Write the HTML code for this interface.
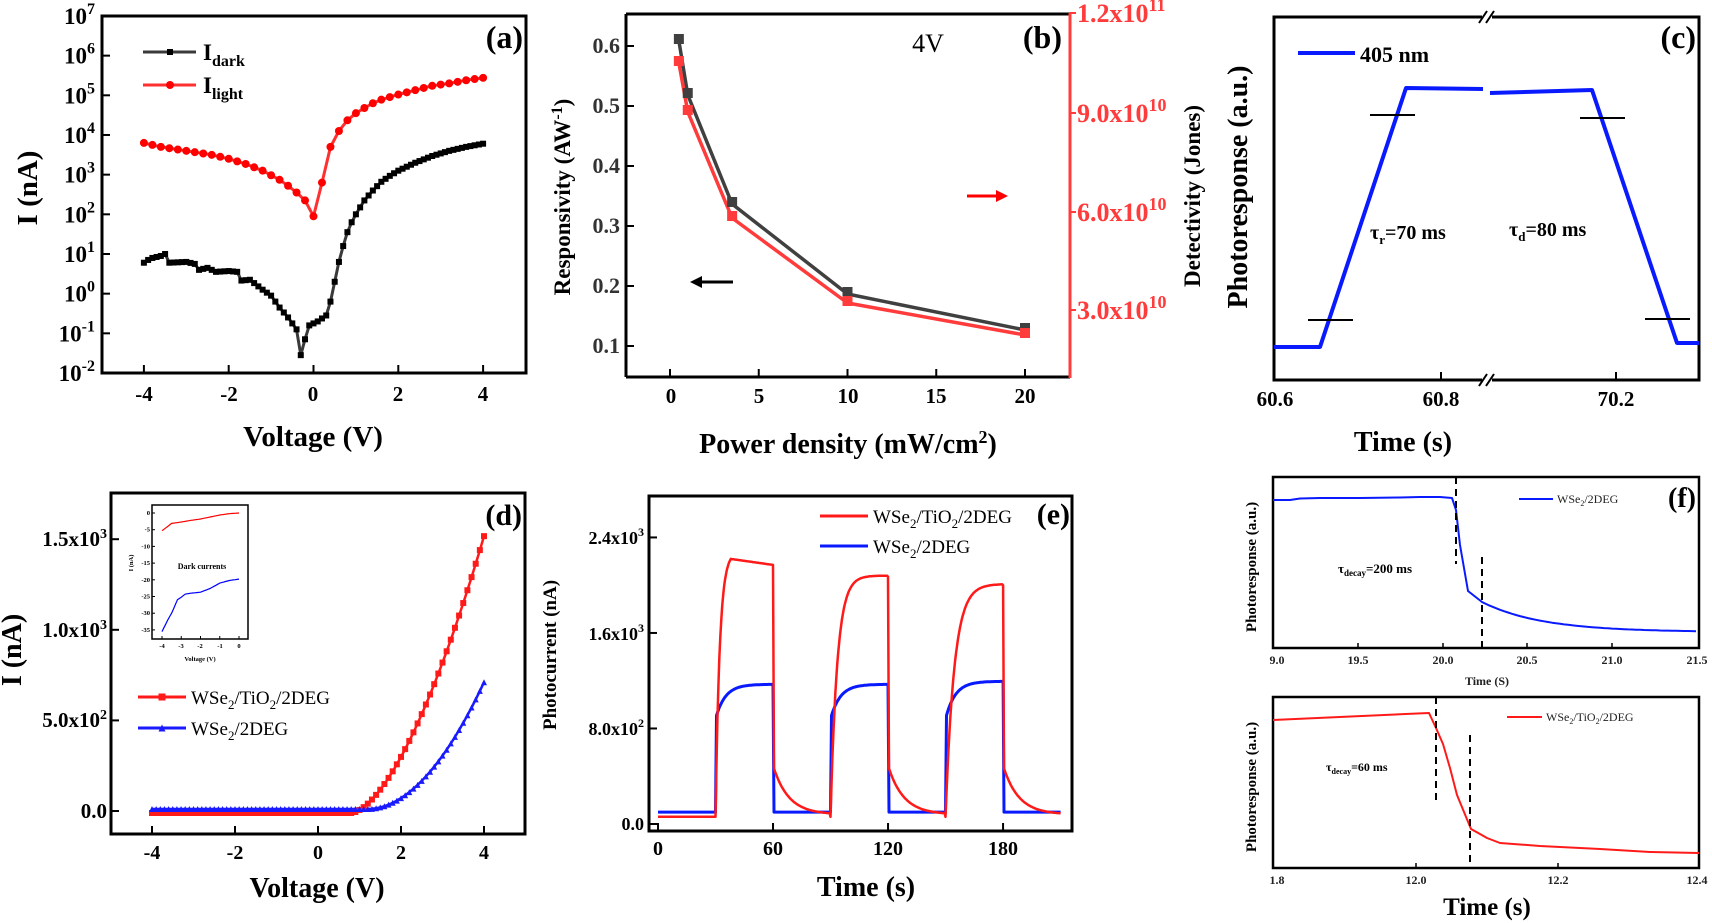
<!DOCTYPE html>
<html><head><meta charset="utf-8"><style>
html,body{margin:0;padding:0;background:#fff;}
svg{display:block;font-family:"Liberation Serif",serif;}
.b{font-weight:bold;}
</style></head><body>
<svg id="s" width="1712" height="923" viewBox="0 0 1712 923" xmlns="http://www.w3.org/2000/svg">
<rect width="1712" height="923" fill="#fff"/>
<g id="g"></g>
<!-- Panel a texts -->
<g class="b" font-size="21" text-anchor="middle">
<text x="144" y="401">-4</text><text x="229" y="401">-2</text><text x="313" y="401">0</text><text x="398" y="401">2</text><text x="483" y="401">4</text>
</g>
<g class="b" font-size="23" text-anchor="end" id="alab"></g>
<text class="b" font-size="29" x="313" y="446" text-anchor="middle">Voltage (V)</text>
<text class="b" font-size="29" transform="translate(37,188) rotate(-90)" text-anchor="middle">I (nA)</text>
<text class="b" font-size="23" x="203" y="60">I<tspan font-size="16" dy="6">dark</tspan></text>
<text class="b" font-size="23" x="203" y="93">I<tspan font-size="16" dy="6">light</tspan></text>
<text class="b" font-size="32" x="523" y="48" text-anchor="end">(a)</text>

<!-- Panel b texts -->
<g class="b" font-size="21" text-anchor="middle">
<text x="671" y="403">0</text><text x="759" y="403">5</text><text x="848" y="403">10</text><text x="936" y="403">15</text><text x="1025" y="403">20</text>
</g>
<g class="b" font-size="22" text-anchor="end" fill="#333">
<text x="620" y="353">0.1</text><text x="620" y="293">0.2</text><text x="620" y="233">0.3</text><text x="620" y="173">0.4</text><text x="620" y="113">0.5</text><text x="620" y="53">0.6</text>
</g>
<g class="b" font-size="26" fill="#ff3b3b">
<text x="1077" y="22">1.2x10<tspan font-size="18" dy="-11">11</tspan></text>
<text x="1077" y="122">9.0x10<tspan font-size="18" dy="-11">10</tspan></text>
<text x="1077" y="221">6.0x10<tspan font-size="18" dy="-11">10</tspan></text>
<text x="1077" y="319">3.0x10<tspan font-size="18" dy="-11">10</tspan></text>
</g>
<text class="b" font-size="28" x="848" y="453" text-anchor="middle">Power density (mW/cm<tspan font-size="18" dy="-10">2</tspan><tspan dy="10">)</tspan></text>
<text class="b" font-size="23" transform="translate(570,197) rotate(-90)" text-anchor="middle">Responsivity (AW<tspan font-size="16" dy="-8">-1</tspan><tspan dy="8">)</tspan></text>
<text class="b" font-size="23" transform="translate(1200,196) rotate(-90)" text-anchor="middle">Detectivity (Jones)</text>
<text font-size="26" x="928" y="52" text-anchor="middle">4V</text>
<text class="b" font-size="32" x="1062" y="48" text-anchor="end">(b)</text>

<!-- Panel c texts -->
<g class="b" font-size="21" text-anchor="middle">
<text x="1275" y="406">60.6</text><text x="1441" y="406">60.8</text><text x="1616" y="406">70.2</text>
</g>
<text class="b" font-size="28" x="1403" y="451" text-anchor="middle">Time (s)</text>
<text class="b" font-size="28" transform="translate(1247,187) rotate(-90)" text-anchor="middle">Photoresponse (a.u.)</text>
<text class="b" font-size="22" x="1360" y="62">405 nm</text>
<text class="b" font-size="20" x="1370" y="239">τ<tspan font-size="13" dy="5">r</tspan><tspan dy="-5">=70 ms</tspan></text>
<text class="b" font-size="20" x="1509" y="236">τ<tspan font-size="13" dy="5">d</tspan><tspan dy="-5">=80 ms</tspan></text>
<text class="b" font-size="32" x="1696" y="48" text-anchor="end">(c)</text>

<!-- Panel d texts -->
<g class="b" font-size="20" text-anchor="middle">
<text x="152" y="859">-4</text><text x="235" y="859">-2</text><text x="318" y="859">0</text><text x="401" y="859">2</text><text x="484" y="859">4</text>
</g>
<g class="b" font-size="21" text-anchor="end">
<text x="107" y="818">0.0</text>
<text x="107" y="727">5.0x10<tspan font-size="14" dy="-8">2</tspan></text>
<text x="107" y="637">1.0x10<tspan font-size="14" dy="-8">3</tspan></text>
<text x="107" y="546">1.5x10<tspan font-size="14" dy="-8">3</tspan></text>
</g>
<text class="b" font-size="28" x="317" y="897" text-anchor="middle">Voltage (V)</text>
<text class="b" font-size="28" transform="translate(21,650) rotate(-90)" text-anchor="middle">I (nA)</text>
<text font-size="19" x="191" y="704">WSe<tspan font-size="13" dy="5">2</tspan><tspan dy="-5">/TiO</tspan><tspan font-size="13" dy="5">2</tspan><tspan dy="-5">/2DEG</tspan></text>
<text font-size="19" x="191" y="735">WSe<tspan font-size="13" dy="5">2</tspan><tspan dy="-5">/2DEG</tspan></text>
<text class="b" font-size="30" x="522" y="525" text-anchor="end">(d)</text>
<!-- inset -->
<g class="b" font-size="6.5" text-anchor="end" id="ilab"></g>
<g class="b" font-size="6.5" text-anchor="middle">
<text x="162" y="648">-4</text><text x="181" y="648">-3</text><text x="200" y="648">-2</text><text x="220" y="648">-1</text><text x="239" y="648">0</text>
<text x="200" y="661">Voltage (V)</text>
<text x="202" y="569" font-size="8">Dark currents</text>
</g>
<text class="b" font-size="6.5" transform="translate(133,563) rotate(-90)" text-anchor="middle">I (nA)</text>

<!-- Panel e texts -->
<g class="b" font-size="20" text-anchor="middle">
<text x="658" y="855">0</text><text x="773" y="855">60</text><text x="888" y="855">120</text><text x="1003" y="855">180</text>
</g>
<g class="b" font-size="18" text-anchor="end">
<text x="644" y="830">0.0</text>
<text x="644" y="735">8.0x10<tspan font-size="12" dy="-8">2</tspan></text>
<text x="644" y="640">1.6x10<tspan font-size="12" dy="-8">3</tspan></text>
<text x="644" y="544">2.4x10<tspan font-size="12" dy="-8">3</tspan></text>
</g>
<text class="b" font-size="28" x="866" y="896" text-anchor="middle">Time (s)</text>
<text class="b" font-size="19" transform="translate(556,655) rotate(-90)" text-anchor="middle">Photocurrent (nA)</text>
<text font-size="19" x="873" y="523">WSe<tspan font-size="13" dy="5">2</tspan><tspan dy="-5">/TiO</tspan><tspan font-size="13" dy="5">2</tspan><tspan dy="-5">/2DEG</tspan></text>
<text font-size="19" x="873" y="553">WSe<tspan font-size="13" dy="5">2</tspan><tspan dy="-5">/2DEG</tspan></text>
<text class="b" font-size="30" x="1070" y="524" text-anchor="end">(e)</text>

<!-- Panel f texts -->
<g class="b" font-size="12" text-anchor="middle" fill="#222">
<text x="1277" y="664">9.0</text><text x="1358" y="664">19.5</text><text x="1443" y="664">20.0</text><text x="1527" y="664">20.5</text><text x="1612" y="664">21.0</text><text x="1697" y="664">21.5</text>
<text x="1487" y="685">Time (S)</text>
<text x="1277" y="884">1.8</text><text x="1416" y="884">12.0</text><text x="1558" y="884">12.2</text><text x="1697" y="884">12.4</text>
</g>
<text class="b" font-size="25" x="1487" y="915" text-anchor="middle">Time (s)</text>
<text class="b" font-size="15" transform="translate(1256,567) rotate(-90)" text-anchor="middle">Photoresponse (a.u.)</text>
<text class="b" font-size="15" transform="translate(1256,787) rotate(-90)" text-anchor="middle">Photoresponse (a.u.)</text>
<text font-size="12" x="1557" y="503" fill="#222">WSe<tspan font-size="8" dy="3">2</tspan><tspan dy="-3">/2DEG</tspan></text>
<text font-size="12" x="1546" y="721" fill="#222">WSe<tspan font-size="8" dy="3">2</tspan><tspan dy="-3">/TiO</tspan><tspan font-size="8" dy="3">2</tspan><tspan dy="-3">/2DEG</tspan></text>
<text class="b" font-size="13" x="1338" y="573">τ<tspan font-size="9" dy="3">decay</tspan><tspan dy="-3">=200 ms</tspan></text>
<text class="b" font-size="12" x="1326" y="771">τ<tspan font-size="8" dy="3">decay</tspan><tspan dy="-3">=60 ms</tspan></text>
<text class="b" font-size="28" x="1696" y="507" text-anchor="end">(f)</text>
</svg>
<script>
var NS="http://www.w3.org/2000/svg",G=document.getElementById("g");
function el(t,a,p){var e=document.createElementNS(NS,t);for(var k in a)e.setAttribute(k,a[k]);(p||G).appendChild(e);return e;}
function line(x1,y1,x2,y2,c,w,extra){var a={x1:x1,y1:y1,x2:x2,y2:y2,stroke:c||"#000","stroke-width":w||2};for(var k in extra)a[k]=extra[k];return el("line",a);}
function poly(pts,c,w,extra){var a={points:pts.map(function(p){return p[0].toFixed(1)+","+p[1].toFixed(1)}).join(" "),fill:"none",stroke:c,"stroke-width":w,"stroke-linejoin":"round"};for(var k in extra)a[k]=extra[k];return el("polyline",a);}
function box(x,y,w,h,sw){el("rect",{x:x,y:y,width:w,height:h,fill:"none",stroke:"#000","stroke-width":sw||3});}
function interp(k,x){for(var i=0;i<k.length-1;i++){if(x<=k[i+1][0]+1e-9){var t=(x-k[i][0])/(k[i+1][0]-k[i][0]);return k[i][1]+t*(k[i+1][1]-k[i][1]);}}return k[k.length-1][1];}
function sq(x,y,s,c){el("rect",{x:x-s/2,y:y-s/2,width:s,height:s,fill:c});}
function tri(x,y,s,c){el("polygon",{points:(x)+","+(y-s/2)+" "+(x-s/2)+","+(y+s/2)+" "+(x+s/2)+","+(y+s/2),fill:c});}

/* ===== Panel a ===== */
(function(){
 var X=function(v){return 313.5+42.4*v}, Y=function(l){return 373-(l+2)*39.67};
 var lab=document.getElementById("alab");
 for(var k=-2;k<=7;k++){var y=Y(k);line(102,y,110,y,"#000",2);
  var t=el("text",{x:95,y:y+8},lab);t.textContent="10";var s=el("tspan",{"font-size":"16",dy:"-10"},t);s.textContent=k;}
 [-4,-2,0,2,4].forEach(function(v){line(X(v),373,X(v),365,"#000",2)});
 var dk=[[-4,0.78],[-3.9,0.85],[-3.8,0.9],[-3.6,0.95],[-3.5,1.0],[-3.4,0.78],[-3.0,0.8],[-2.8,0.75],[-2.7,0.6],[-2.5,0.65],[-2.3,0.55],[-2.0,0.57],[-1.8,0.55],[-1.7,0.33],[-1.5,0.35],[-1.2,0.1],[-1.0,-0.05],[-0.8,-0.35],[-0.6,-0.6],[-0.4,-0.9],[-0.3,-1.55],[-0.2,-1.15],[-0.1,-0.8],[0.1,-0.7],[0.3,-0.55],[0.4,-0.2],[0.5,0.3],[0.6,0.8],[0.7,1.2],[0.8,1.55],[0.9,1.8],[1.0,2.0],[1.2,2.35],[1.4,2.6],[1.6,2.82],[1.8,2.97],[2.0,3.1],[2.4,3.3],[2.8,3.47],[3.2,3.6],[3.6,3.7],[4.0,3.78]];
 var lt=[[-4,3.8],[-3.6,3.7],[-3,3.6],[-2.4,3.5],[-2,3.4],[-1.6,3.27],[-1.2,3.1],[-0.8,2.87],[-0.6,2.72],[-0.4,2.55],[-0.2,2.35],[0,1.95],[0.2,2.8],[0.4,3.7],[0.6,4.1],[0.8,4.37],[1.0,4.55],[1.2,4.68],[1.4,4.8],[1.6,4.89],[2,5.02],[2.4,5.13],[2.8,5.24],[3.2,5.3],[3.6,5.38],[4,5.44]];
 var p=[];for(var i=0;i<=80;i++){var v=-4+i*0.1;p.push([X(v),Y(interp(dk,v))]);}
 poly(p,"#3a3a3a",3);p.forEach(function(q){sq(q[0],q[1],6,"#000")});
 var r=[];for(var i=0;i<=40;i++){var v=-4+i*0.2;r.push([X(v),Y(interp(lt,v))]);}
 poly(r,"#ff3030",3);r.forEach(function(q){el("circle",{cx:q[0],cy:q[1],r:4,fill:"#ff0000"})});
 line(143,52,196,52,"#3a3a3a",3);sq(170,52,6,"#000");
 line(143,85,196,85,"#ff3030",3);el("circle",{cx:170,cy:85,r:4,fill:"#f00"});
 box(102,16,424,357);
})();

/* ===== Panel b ===== */
(function(){
 var X=function(p){return 670+p*17.75};
 [0.1,0.2,0.3,0.4,0.5,0.6].forEach(function(r){var y=46+(0.6-r)*600;line(626,y,634,y,"#000",2)});
 [0,5,10,15,20].forEach(function(v){line(X(v),377,X(v),369,"#000",2)});
 [13,113,212,310].forEach(function(y){line(1070,y,1076,y,"#ff3b3b",2)});
 var P=[0.5,1,3.5,10,20],bk=[39,93,202,292,328],rd=[61,110,216,301,333];
 poly(P.map(function(p,i){return[X(p),bk[i]+2]}),"#404040",3.5);
 poly(P.map(function(p,i){return[X(p),rd[i]+2]}),"#ff3b3b",3.5);
 P.forEach(function(p,i){sq(X(p),bk[i],10,"#404040")});
 P.forEach(function(p,i){sq(X(p),rd[i],10,"#ff3b3b")});
 line(733,282,698,282,"#000",3);el("polygon",{points:"690,282 702,276 702,288",fill:"#000"});
 line(967,196,1000,196,"#f00",3);el("polygon",{points:"1008,196 996,190 996,202",fill:"#f00"});
 line(626,14,1070,14,"#000",3);line(626,377,1070,377,"#000",3);line(626,14,626,377,"#000",3);
 line(1070,13,1070,378,"#ff3b3b",3);
})();

/* ===== Panel c ===== */
(function(){
 box(1274,17,425,363);
 el("rect",{x:1482,y:12,width:10,height:10,fill:"#fff"});el("rect",{x:1482,y:375,width:10,height:10,fill:"#fff"});
 line(1479,23,1487,11,"#000",2);line(1486,23,1494,11,"#000",2);
 line(1479,386,1487,374,"#000",2);line(1486,386,1494,374,"#000",2);
 line(1441,380,1441,372,"#000",2);line(1616,380,1616,372,"#000",2);
 poly([[1274,347],[1320,347],[1406,88],[1483,89]],"#0a1aff",4);
 poly([[1490,93],[1592,90],[1677,343],[1699,343]],"#0a1aff",4);
 line(1370,115,1415,115,"#000",2);line(1308,320,1353,320,"#000",2);
 line(1580,118,1625,118,"#000",2);line(1645,319,1690,319,"#000",2);
 line(1298,53,1355,53,"#0a1aff",4);
})();

/* ===== Panel d ===== */
(function(){
 var X=function(v){return 318+41.5*v},Y=function(i){return 811-i*0.1812};
 [0,500,1000,1500].forEach(function(i){line(111,Y(i),119,Y(i),"#000",2)});
 [-4,-2,0,2,4].forEach(function(v){line(X(v),834,X(v),826,"#000",2)});
 var r=[],b=[];
 for(var k=0;k<=80;k++){var v=-4+k*0.1;
  var ir=v>0.8?230*Math.pow(v-0.8,1.628):0, ib=v>1.2?93*Math.pow(v-1.2,1.96):0;
  r.push([X(v),Y(ir)+2]);b.push([X(v),Y(ib)-2]);}
 poly(r,"#ff1a1a",2.5);poly(b,"#1a1aff",2.5);
 r.forEach(function(q){sq(q[0],q[1],6,"#ff1a1a")});
 b.forEach(function(q){tri(q[0],q[1],6,"#1a1aff")});
 box(111,493,414,341);
 line(138,697,186,697,"#ff1a1a",3);sq(162,697,7,"#ff1a1a");
 line(138,728,186,728,"#1a1aff",3);tri(162,728,7,"#1a1aff");
 var IX=function(v){return 239+v*19.25};
 var iy=function(i){return 513+(-i)*3.34};
 var lab=document.getElementById("ilab");
 [0,-5,-10,-15,-20,-25,-30,-35].forEach(function(i){line(152,iy(i),155,iy(i),"#000",1);var t=el("text",{x:150,y:iy(i)+2},lab);t.textContent=i;});
 [-4,-3,-2,-1,0].forEach(function(v){line(IX(v),639,IX(v),636,"#000",1)});
 var rk=[[-4,-5.3],[-3.7,-4],[-3.5,-3.1],[-3,-2.7],[-2.5,-2.2],[-2,-1.8],[-1.5,-1.2],[-1,-0.6],[-0.5,-0.2],[0,0]];
 var bk=[[-4,-35.5],[-3.7,-32],[-3.5,-30],[-3.2,-26],[-3,-25.2],[-2.8,-24.3],[-2.5,-24],[-2,-23.7],[-1.5,-22.6],[-1,-21],[-0.5,-20.2],[0,-19.8]];
 var pr=[],pb=[];for(var k=0;k<=40;k++){var v=-4+k*0.1;pr.push([IX(v),iy(interp(rk,v))]);pb.push([IX(v),iy(interp(bk,v))]);}
 poly(pr,"#f00",1.2);poly(pb,"#00f",1.2);
 box(152,505,96,134,1.5);
})();

/* ===== Panel e ===== */
(function(){
 var X=function(t){return 658+1.917*t},Y=function(i){return 824-i*0.1194};
 [0,800,1600,2400].forEach(function(i){line(649,Y(i),657,Y(i),"#000",2)});
 [0,60,120,180].forEach(function(t){line(X(t),831,X(t),823,"#000",2)});
 var peaks=[[2220,2170,2.2],[2080,2070,3.5],[2010,2000,4.5]],bpk=[1170,1170,1195];
 var r=[],b=[];
 for(var t=0;t<=210;t+=0.5){
  var ir,ib;
  if(t<30){ir=60;ib=100;}
  else{
   var c=Math.min(Math.floor((t-30)/60),2);
   var ph=(t-30)-60*c;
   var pk=peaks[c];
   if(ph<30){
    ir=c==0?(ph<8?60+(pk[0]-60)*(1-Math.exp(-ph/2.2))/(1-Math.exp(-8/2.2)):pk[0]-(pk[0]-pk[1])*(ph-8)/22):60+(pk[0]-60)*(1-Math.exp(-ph/pk[2]));
    ib=ph<0.3?100+(880-100)*ph/0.3:880+(bpk[c]-880)*(1-Math.exp(-ph/5));}
   else{var off=ph-30;
    if(off<0.4){ir=pk[1]-(pk[1]-470)*off/0.4;ib=bpk[c]-(bpk[c]-100)*off/0.4;}
    else{ir=80+390*Math.exp(-(off-0.4)/8);ib=100;}}
  }
  r.push([X(t),Y(ir)]);b.push([X(t),Y(ib)]);}
 poly(b,"#0a1aff",3);poly(r,"#ff1a1a",2.5);
 box(649,496,423,335);
 line(820,516,868,516,"#ff1a1a",3);line(820,546,868,546,"#0a1aff",3);
})();

/* ===== Panel f ===== */
(function(){
 box(1273,477,426,171,2.5);box(1273,697,426,171,2.5);
 [1358,1443,1527,1612].forEach(function(x){line(x,648,x,643,"#000",1.5)});
 [1416,1558].forEach(function(x){line(x,868,x,863,"#000",1.5)});
 var p=[[1273,500],[1290,500],[1300,498.5],[1320,498],[1360,498],[1400,497.5],[1420,497],[1440,497],[1452,498],[1456,510],[1460,545],[1468,591],[1482,602]];
 for(var x=1484;x<=1699;x+=4){var t=(x-1482)/60;p.push([x,632-(632-602)*Math.exp(-t)]);}
 poly(p,"#0a1aff",2);
 line(1456,477,1456,564,"#000",2,{"stroke-dasharray":"7,5"});
 line(1482,557,1482,648,"#000",2,{"stroke-dasharray":"7,5"});
 line(1519,499,1553,499,"#0a1aff",2);
 poly([[1273,720],[1429,713],[1436,728],[1443,744],[1450,768],[1457,795],[1464,812],[1471,829],[1480,834],[1487,838],[1500,843],[1540,846],[1600,849],[1650,852],[1699,853]],"#ff1a1a",2);
 line(1436,697,1436,800,"#000",2,{"stroke-dasharray":"7,5"});
 line(1470,735,1470,868,"#000",2,{"stroke-dasharray":"7,5"});
 line(1507,717,1542,717,"#ff1a1a",2);
})();
</script>
</body></html>
